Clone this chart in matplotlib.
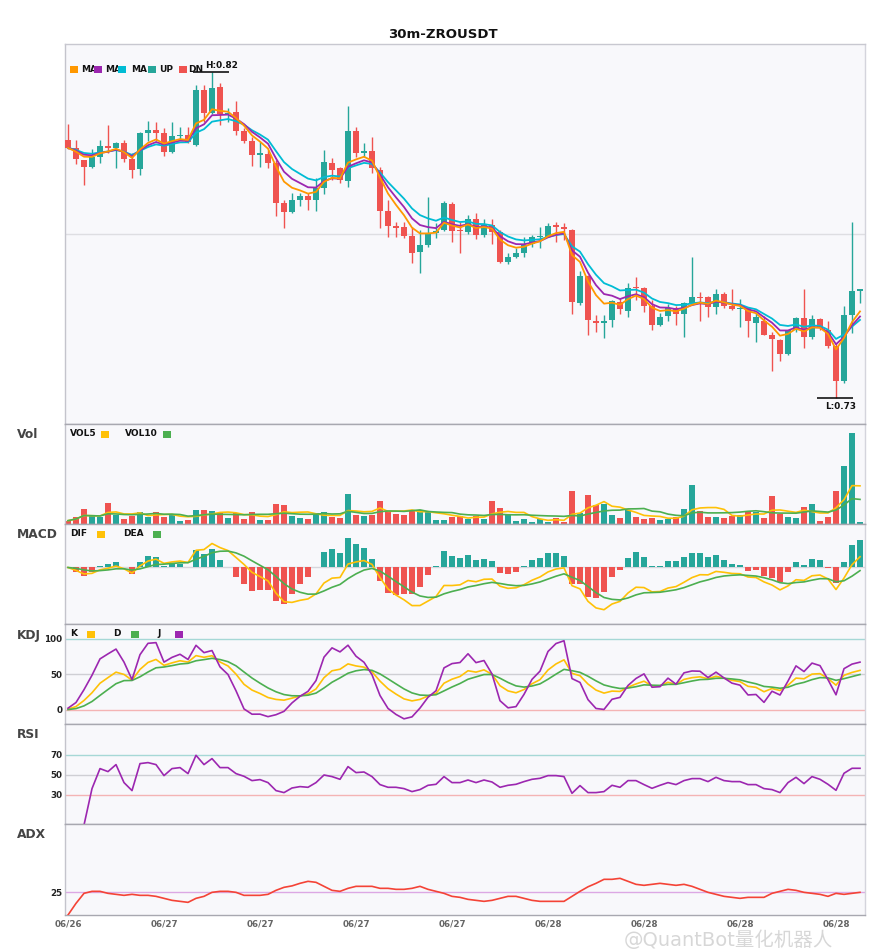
import numpy as np
import pandas as pd
import matplotlib
matplotlib.use("Agg")
import matplotlib.pyplot as plt
from matplotlib.patches import Rectangle
from matplotlib.transforms import Bbox

# ---------------- data ----------------
title = "30m-ZROUSDT"
tick_pos = [0, 12, 24, 36, 48, 60, 72, 84, 96]
tick_labels = ["06/26", "06/27", "06/27", "06/27", "06/27", "06/28", "06/28", "06/28", "06/28"]

opens = [0.8011, 0.7990, 0.7956, 0.7938, 0.7965, 0.7995, 0.7989, 0.8002, 0.7960, 0.7932,
         0.8032, 0.8040, 0.8031, 0.7978, 0.8022, 0.8025, 0.7998, 0.8149, 0.8087, 0.8157,
         0.8082, 0.8089, 0.8037, 0.8010, 0.7971, 0.7973, 0.7949, 0.7837, 0.7814, 0.7846,
         0.7858, 0.7846, 0.7878, 0.7947, 0.7933, 0.7899, 0.8037, 0.7977, 0.7981, 0.7930,
         0.7815, 0.7772, 0.7771, 0.7747, 0.7703, 0.7722, 0.7754, 0.7763, 0.7835, 0.7763,
         0.7757, 0.7793, 0.7749, 0.7776, 0.7759, 0.7676, 0.7690, 0.7701, 0.7724, 0.7743,
         0.7745, 0.7774, 0.7771, 0.7763, 0.7563, 0.7637, 0.7513, 0.7508, 0.7514, 0.7565,
         0.7541, 0.7605, 0.7604, 0.7554, 0.7501, 0.7526, 0.7547, 0.7532, 0.7563, 0.7578,
         0.7578, 0.7550, 0.7587, 0.7554, 0.7545, 0.7547, 0.7506, 0.7513, 0.7474, 0.7460,
         0.7422, 0.7486, 0.7520, 0.7468, 0.7517, 0.7486, 0.7442, 0.7348, 0.7529, 0.7596]
highs = [0.8055, 0.8011, 0.7956, 0.7988, 0.8011, 0.8053, 0.8006, 0.8011, 0.7975, 0.8034,
         0.8064, 0.8061, 0.8044, 0.8062, 0.8048, 0.8048, 0.8163, 0.8163, 0.8200, 0.8168,
         0.8099, 0.8120, 0.8044, 0.8021, 0.8007, 0.7984, 0.7956, 0.7846, 0.7864, 0.7864,
         0.7864, 0.7906, 0.7984, 0.7961, 0.7938, 0.8105, 0.8048, 0.8002, 0.8019, 0.7936,
         0.7846, 0.7786, 0.7786, 0.7772, 0.7763, 0.7855, 0.7783, 0.7843, 0.7841, 0.7786,
         0.7805, 0.7809, 0.7795, 0.7795, 0.7763, 0.7699, 0.7713, 0.7745, 0.7749, 0.7772,
         0.7783, 0.7786, 0.7782, 0.7765, 0.7650, 0.7640, 0.7528, 0.7528, 0.7571, 0.7575,
         0.7616, 0.7633, 0.7607, 0.7570, 0.7534, 0.7559, 0.7553, 0.7566, 0.7688, 0.7591,
         0.7580, 0.7600, 0.7591, 0.7600, 0.7572, 0.7550, 0.7534, 0.7526, 0.7483, 0.7462,
         0.7488, 0.7524, 0.7600, 0.7529, 0.7520, 0.7511, 0.7451, 0.7554, 0.7786, 0.7598]
lows = [0.7988, 0.7945, 0.7887, 0.7935, 0.7949, 0.7975, 0.7933, 0.7951, 0.7907, 0.7915,
        0.8010, 0.8010, 0.7967, 0.7976, 0.8011, 0.8002, 0.7995, 0.8062, 0.8083, 0.8053,
        0.8062, 0.8025, 0.8002, 0.7940, 0.7938, 0.7933, 0.7802, 0.7768, 0.7811, 0.7830,
        0.7818, 0.7816, 0.7862, 0.7901, 0.7892, 0.7883, 0.7965, 0.7965, 0.7921, 0.7768,
        0.7745, 0.7745, 0.7740, 0.7671, 0.7646, 0.7717, 0.7740, 0.7761, 0.7731, 0.7701,
        0.7752, 0.7738, 0.7743, 0.7726, 0.7673, 0.7669, 0.7685, 0.7690, 0.7717, 0.7713,
        0.7743, 0.7731, 0.7736, 0.7532, 0.7557, 0.7474, 0.7483, 0.7465, 0.7495, 0.7532,
        0.7524, 0.7570, 0.7536, 0.7488, 0.7499, 0.7511, 0.7501, 0.7467, 0.7561, 0.7511,
        0.7524, 0.7532, 0.7547, 0.7543, 0.7497, 0.7469, 0.7455, 0.7474, 0.7373, 0.7403,
        0.7419, 0.7483, 0.7437, 0.7462, 0.7488, 0.7437, 0.7300, 0.7342, 0.7480, 0.7563]
closes = [0.7990, 0.7958, 0.7938, 0.7964, 0.7995, 0.7990, 0.8002, 0.7960, 0.7930, 0.8032,
          0.8040, 0.8032, 0.7979, 0.8022, 0.8025, 0.8007, 0.8149, 0.8087, 0.8155, 0.8083,
          0.8085, 0.8037, 0.8010, 0.7970, 0.7973, 0.7949, 0.7839, 0.7814, 0.7846, 0.7858,
          0.7846, 0.7878, 0.7952, 0.7929, 0.7901, 0.8037, 0.7976, 0.7980, 0.7933, 0.7816,
          0.7775, 0.7770, 0.7747, 0.7701, 0.7722, 0.7754, 0.7760, 0.7838, 0.7760, 0.7760,
          0.7795, 0.7749, 0.7777, 0.7759, 0.7676, 0.7690, 0.7701, 0.7722, 0.7743, 0.7745,
          0.7774, 0.7772, 0.7765, 0.7566, 0.7637, 0.7514, 0.7508, 0.7513, 0.7568, 0.7545,
          0.7604, 0.7602, 0.7554, 0.7501, 0.7522, 0.7547, 0.7532, 0.7561, 0.7578, 0.7575,
          0.7552, 0.7587, 0.7554, 0.7545, 0.7547, 0.7511, 0.7522, 0.7474, 0.7462, 0.7422,
          0.7486, 0.7520, 0.7468, 0.7517, 0.7492, 0.7442, 0.7348, 0.7529, 0.7596, 0.7598]
volumes = [10, 20, 46, 23, 21, 62, 28, 16, 23, 37, 22, 37, 22, 26, 10, 13, 43, 43, 40, 33,
           19, 32, 16, 37, 13, 13, 61, 58, 25, 19, 16, 34, 37, 22, 19, 88, 28, 25, 28, 70,
           37, 31, 28, 43, 43, 40, 13, 13, 22, 25, 16, 24, 16, 70, 49, 28, 10, 16, 7, 15,
           7, 19, 7, 97, 33, 85, 58, 61, 28, 19, 43, 22, 16, 19, 13, 16, 22, 46, 115, 40,
           22, 22, 19, 25, 28, 40, 37, 19, 82, 31, 22, 19, 52, 61, 10, 22, 97, 172, 271, 7]
rsi_values = [0, 0, 0, 36.4, 56.4, 53.4, 60.4, 42.4, 34.4, 61.4,
              62.4, 60.4, 49.4, 56.4, 57.4, 51.4, 69.7, 60.4, 66.4, 57.4,
              57.4, 51.4, 48.7, 44.4, 45.4, 42.4, 34.4, 32.4, 37.0, 38.4,
              37.7, 42.4, 50.0, 48.4, 45.7, 58.4, 52.4, 53.0, 48.4, 40.4,
              37.7, 37.7, 36.4, 33.4, 35.4, 39.7, 40.7, 48.4, 42.4, 42.4,
              45.0, 42.4, 45.0, 43.0, 37.7, 39.7, 40.7, 43.4, 45.7, 46.7,
              49.4, 49.4, 48.4, 31.7, 39.4, 32.4, 32.4, 33.4, 39.7, 37.7,
              44.4, 44.4, 40.4, 36.7, 39.7, 42.4, 40.4, 44.4, 46.4, 46.4,
              43.4, 47.7, 44.4, 43.4, 43.4, 40.4, 40.4, 36.4, 35.4, 32.4,
              42.4, 47.7, 41.4, 48.4, 45.7, 40.7, 34.7, 51.7, 56.7, 56.7]
adx_values = [0, 12.8, 23.8, 26.0, 26.0, 23.8, 22.7, 21.6, 22.7, 21.6,
              21.6, 20.5, 18.3, 16.1, 15.0, 13.9, 18.3, 20.5, 24.9, 26.0,
              26.0, 24.9, 21.6, 21.6, 21.6, 22.7, 27.1, 30.4, 32.0, 34.8,
              37.0, 35.9, 31.5, 27.1, 26.0, 29.3, 31.5, 31.5, 31.5, 29.3,
              29.3, 28.2, 28.2, 29.3, 31.5, 28.2, 26.0, 23.8, 20.5, 19.4,
              17.2, 16.1, 15.0, 16.1, 18.3, 20.5, 20.5, 18.3, 16.1, 15.0,
              15.0, 15.0, 15.0, 20.5, 26.0, 31.0, 34.8, 39.2, 39.2, 40.3,
              37.0, 33.7, 32.6, 33.7, 34.8, 33.7, 32.6, 33.7, 31.5, 28.2,
              24.9, 22.7, 20.5, 19.4, 18.3, 19.4, 19.4, 19.4, 23.8, 26.0,
              28.2, 27.1, 24.9, 23.8, 22.7, 20.5, 23.8, 22.7, 23.8, 24.9]
ma_spans = [5, 7, 10]
ma_labels = ["MA5", "MA7", "MA10"]
macd_params = (5, 16, 6)
kdj_n = 9

# ---------------- derived indicators ----------------
df = pd.DataFrame({"open": opens, "high": highs, "low": lows, "close": closes, "vol": volumes})
n = len(df)
x = np.arange(n)
mas = [df.close.ewm(span=s, adjust=False).mean() for s in ma_spans]
vol5 = df.vol.rolling(5, min_periods=1).mean()
vol10 = df.vol.rolling(10, min_periods=1).mean()
fast, slow, sig = macd_params
dif = df.close.ewm(span=fast, adjust=False).mean() - df.close.ewm(span=slow, adjust=False).mean()
dea = dif.ewm(span=sig, adjust=False).mean()
hist = 2 * (dif - dea)
llv = df.low.rolling(kdj_n, min_periods=1).min()
hhv = df.high.rolling(kdj_n, min_periods=1).max()
rsv = ((df.close - llv) / (hhv - llv) * 100).fillna(0)
K, D = [], []
kp, dp = 0.0, 0.0
for r in rsv:
    kp = 2 / 3 * kp + r / 3
    dp = 2 / 3 * dp + kp / 3
    K.append(kp); D.append(dp)
K = np.array(K); D = np.array(D); J = 3 * K - 2 * D

# ---------------- style ----------------
UP, DN = "#26A69A", "#EF5350"
MA_COLORS = ["#FF9800", "#9C27B0", "#00BCD4"]
YEL, GRN, PUR = "#FFC107", "#4CAF50", "#9C27B0"
BG = "#f8f8fb"
W, H = 885, 950
plt.rcParams["font.family"] = ["DejaVu Sans", "Noto Sans CJK SC"]
fig = plt.figure(figsize=(W / 100, H / 100), dpi=100)
fig.patch.set_facecolor("white")


def px_axes(x0, y0, x1, y1):
    ax = fig.add_axes([x0 / W, 1 - y1 / H, (x1 - x0) / W, (y1 - y0) / H])
    ax.set_facecolor(BG)
    ax.set_xlim(-0.375, n - 0.375)
    ax.set_xticks([])
    ax.set_yticks([])
    ax.spines["left"].set_color("#c4c4cc")
    ax.spines["right"].set_color("#d4d4dc")
    ax.spines["top"].set_color("#a8a8b0")
    ax.spines["bottom"].set_color("#a8a8b0")
    for s in ax.spines.values():
        s.set_linewidth(1.0)
    return ax


def fx(px):
    return px / W


def fy(py):
    return 1 - py / H


def fig_square(x0, y0, color, w=8, h=7):
    fig.patches.append(Rectangle((fx(x0), fy(y0 + h)), w / W, h / H, transform=fig.transFigure,
                                 facecolor=color, edgecolor="none", zorder=5))


def fig_label(xp, yp, s, size=6.5, color="#111111", clip_right=None):
    t = fig.text(fx(xp), fy(yp), s, ha="left", va="center", fontsize=size, fontweight="bold",
                 color=color, zorder=4)
    if clip_right is not None:
        t.set_clip_box(Bbox.from_extents(xp - 2, H - yp - 12, clip_right, H - yp + 12))
        t.set_clip_on(True)
    return t


fig.text(0.5, fy(35), title, ha="center", va="center", fontsize=9.5, fontweight="bold", color="#111111")

# ---------------- main candle panel ----------------
ax = px_axes(65, 44, 865, 424)
ax.spines["top"].set_color("#c8c8d0")
o = df.open.values; c = df.close.values; hi = df.high.values; lo = df.low.values
up = c >= o
cols = np.where(up, UP, DN)
ax.vlines(x, lo, hi, colors=cols, lw=1.0, zorder=2)
body_b = np.minimum(o, c)
body_h = np.maximum(np.abs(c - o), 0.0004)
ax.bar(x, body_h, bottom=body_b, width=0.75, color=cols, zorder=3, linewidth=0)
for m, col in zip(mas[::-1], MA_COLORS[::-1]):
    ax.plot(x, m, color=col, lw=1.3, zorder=4)
pmax, pmin = hi.max(), lo.min()
rng = pmax - pmin
y0, y1 = pmin - 0.08 * rng, pmax + 0.085 * rng
ax.set_ylim(y0, y1)
ax.axhline((y0 + y1) / 2, color="#dedee2", lw=1, zorder=1)
ih, il = int(np.argmax(hi)), int(np.argmin(lo))
ax.hlines(pmax, ih - 2.4, ih + 2.1, color="black", lw=1.1, zorder=6)
ax.hlines(pmin, il - 2.4, il + 2.1, color="black", lw=1.1, zorder=6)
ax.annotate(f"H:{pmax:.2f}", (ih + 1.15, pmax), xytext=(0, 1.5), textcoords="offset points",
            ha="center", va="bottom", fontsize=6.4, fontweight="bold", color="#111111", zorder=7)
ax.annotate(f"L:{pmin:.2f}", (il + 0.6, pmin), xytext=(0, -3), textcoords="offset points",
            ha="center", va="top", fontsize=6.4, fontweight="bold", color="#111111", zorder=7)

# legend of main panel (each label is cut where the next square starts, as in the source)
sq_x = [70, 94, 118, 148, 179]
lab_x = [81, 105, 131, 159, 188.5]
leg_cols = MA_COLORS + [UP, DN]
leg_labels = ma_labels + ["UP", "DN"]
for k in range(5):
    fig_square(sq_x[k], 66, leg_cols[k])
    fig_label(lab_x[k], 69.5, leg_labels[k], clip_right=sq_x[k + 1] if k < 4 else None)

# ---------------- volume ----------------
axv = px_axes(65, 424, 865, 524)
axv.bar(x, df.vol, width=0.72, color=cols, linewidth=0, zorder=2)
axv.plot(x, vol5, color=YEL, lw=1.2, zorder=3)
axv.plot(x, vol10, color=GRN, lw=1.2, zorder=3)
axv.set_ylim(0, df.vol.max() * 1.1)
fig_label(70, 434, "VOL5"); fig_square(101, 430.5, YEL)
fig_label(125, 434, "VOL10"); fig_square(163, 430.5, GRN)

# ---------------- MACD ----------------
axm = px_axes(65, 524, 865, 624)
axm.axhline(0, color="#d6d6dc", lw=1, zorder=1)
axm.bar(x, hist, width=0.72, color=np.where(hist >= 0, UP, DN), linewidth=0, zorder=2)
axm.plot(x, dif, color=YEL, lw=1.2, zorder=3)
axm.plot(x, dea, color=GRN, lw=1.2, zorder=3)
mlo = min(dif.min(), dea.min(), hist.min()); mhi = max(dif.max(), dea.max(), hist.max())
mr = mhi - mlo
axm.set_ylim(mlo - 0.2 * mr, mhi + 0.2 * mr)
fig_label(70, 534, "DIF"); fig_square(97, 530.5, YEL)
fig_label(123, 534, "DEA"); fig_square(153, 530.5, GRN)

# ---------------- KDJ ----------------
axk = px_axes(65, 624, 865, 724)
axk.axhline(100, color="#a6d8d6", lw=1, zorder=1)
axk.axhline(50, color="#cfcfd4", lw=1, zorder=1)
axk.axhline(0, color="#f4b4b4", lw=1, zorder=1)
axk.plot(x, K, color=YEL, lw=1.2, zorder=3)
axk.plot(x, D, color=GRN, lw=1.2, zorder=3)
axk.plot(x, J, color=PUR, lw=1.2, zorder=3)
axk.set_ylim(-20, 121)
axk.set_yticks([0, 50, 100])
axk.set_yticklabels(["0", "50", "100"])
fig_label(70, 634, "K"); fig_square(87, 630.5, YEL)
fig_label(113, 634, "D"); fig_square(131, 630.5, GRN)
fig_label(157, 634, "J"); fig_square(175, 630.5, PUR)

# ---------------- RSI ----------------
axr = px_axes(65, 724, 865, 824)
axr.axhline(70, color="#a6d8d6", lw=1, zorder=1)
axr.axhline(50, color="#cfcfd4", lw=1, zorder=1)
axr.axhline(30, color="#f4b4b4", lw=1, zorder=1)
axr.plot(x, rsi_values, color=PUR, lw=1.2, zorder=3)
axr.set_ylim(1, 101)
axr.set_yticks([30, 50, 70])
axr.set_yticklabels(["30", "50", "70"])

# ---------------- ADX ----------------
axa = px_axes(65, 824, 865, 915)
axa.axhline(25, color="#dca8e4", lw=1, zorder=1)
axa.plot(x, adx_values, color="#F44336", lw=1.2, zorder=3)
axa.set_ylim(0, 100)
axa.set_yticks([25])
axa.set_yticklabels(["25"])
axa.set_xticks(tick_pos)
axa.set_xticklabels(tick_labels)
axa.tick_params(axis="x", length=0, pad=3, labelsize=6.3, labelcolor="#666666")
for t in axa.get_xticklabels():
    t.set_fontweight("bold")

for a in (axk, axr, axa):
    a.tick_params(axis="y", length=0, pad=2, labelsize=6.3, labelcolor="#222222")
    for t in a.get_yticklabels():
        t.set_fontweight("bold")

# panel titles
for yy, s in [(435, "Vol"), (535, "MACD"), (635, "KDJ"), (735, "RSI"), (835, "ADX")]:
    fig.text(fx(17), fy(yy), s, ha="left", va="center", fontsize=8.8, fontweight="bold", color="#444444")

# watermark (kept just below the date labels)
fig.text(fx(624), fy(940), "@QuantBot量化机器人", ha="left", va="center", fontsize=14,
         color="#bdbdbd", alpha=0.6, zorder=10)

fig.savefig("out.png", dpi=100, facecolor="white")
